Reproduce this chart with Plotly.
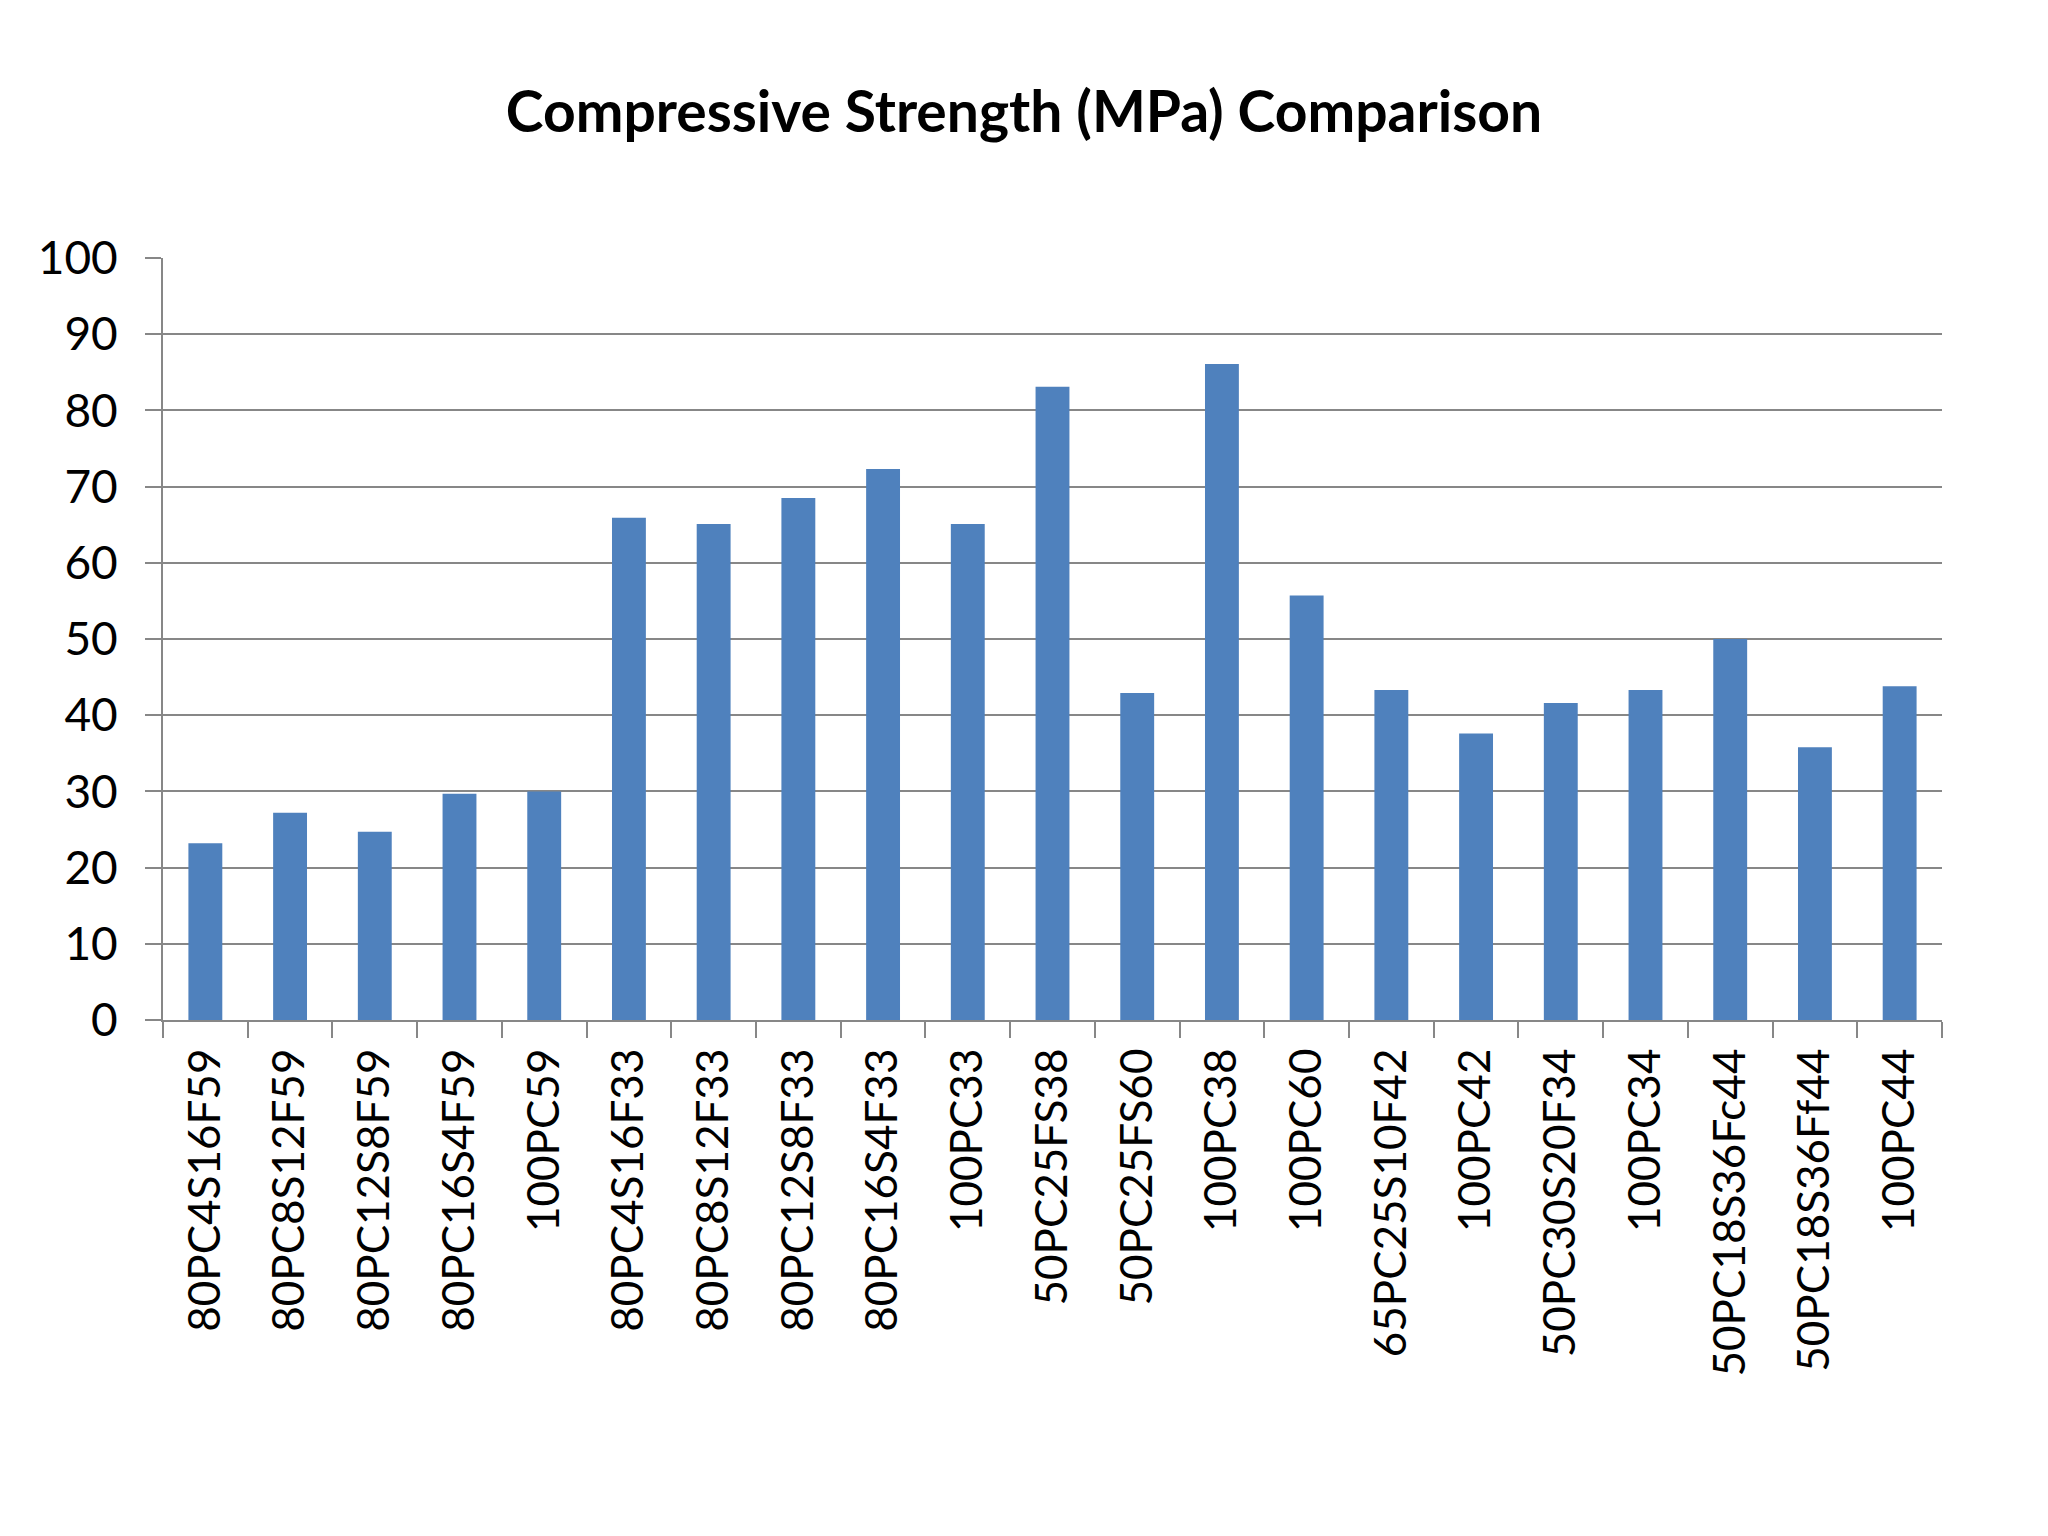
import plotly.graph_objects as go

categories = [
    "80PC4S16F59", "80PC8S12F59", "80PC12S8F59", "80PC16S4F59", "100PC59",
    "80PC4S16F33", "80PC8S12F33", "80PC12S8F33", "80PC16S4F33", "100PC33",
    "50PC25FS38", "50PC25FS60", "100PC38", "100PC60", "65PC25S10F42",
    "100PC42", "50PC30S20F34", "100PC34", "50PC18S36Fc44", "50PC18S36Ff44",
    "100PC44",
]
strength = [
    23.2, 27.2, 24.7, 29.7, 30.0,
    65.9, 65.1, 68.5, 72.3, 65.1,
    83.1, 42.9, 86.1, 55.7, 43.3,
    37.6, 41.6, 43.3, 50.0, 35.8,
    43.8,
]
y_ticks = [0, 10, 20, 30, 40, 50, 60, 70, 80, 90, 100]
title_text = "Compressive Strength (MPa) Comparison"

W, H = 2048, 1536
OFF = 8  # page body margin
left, right, top, bottom = 163 - OFF, 1942 - OFF, 258 - OFF, 1020 - OFF

fig = go.Figure(
    go.Bar(
        x=categories,
        y=strength,
        width=0.4,
        marker=dict(color="#4F81BD", line=dict(width=0)),
    )
)

fig.update_layout(
    width=W,
    height=H,
    paper_bgcolor="white",
    plot_bgcolor="white",
    showlegend=False,
    margin=dict(l=left, r=W - right, t=top, b=H - bottom, pad=0),
    title=dict(
        text="<b>" + title_text + "</b>",
        x=(1024 - OFF) / W,
        xanchor="center",
        xref="container",
        y=1 - (112 - OFF) / H,
        yref="container",
        yanchor="middle",
        font=dict(family="Lato", size=57, color="black"),
    ),
)

fig.update_yaxes(
    range=[0, 100],
    tickvals=y_ticks,
    ticktext=[str(v) for v in y_ticks],
    showgrid=True,
    gridcolor="#878787",
    gridwidth=2,
    showline=True,
    linecolor="#878787",
    linewidth=2,
    ticks="outside",
    ticklen=16,
    tickwidth=2,
    tickcolor="#878787",
    ticklabelstandoff=18,
    tickfont=dict(family="Lato", size=46, color="black"),
    zeroline=False,
    automargin=False,
)

fig.update_xaxes(
    type="category",
    showgrid=False,
    showline=True,
    linecolor="#878787",
    linewidth=2,
    ticks="outside",
    tickson="boundaries",
    ticklen=16,
    tickwidth=2,
    tickcolor="#878787",
    tickangle=-90,
    ticklabelstandoff=9,
    tickfont=dict(family="Lato", size=44, color="black"),
    automargin=False,
)

fig.write_html("out.html")
